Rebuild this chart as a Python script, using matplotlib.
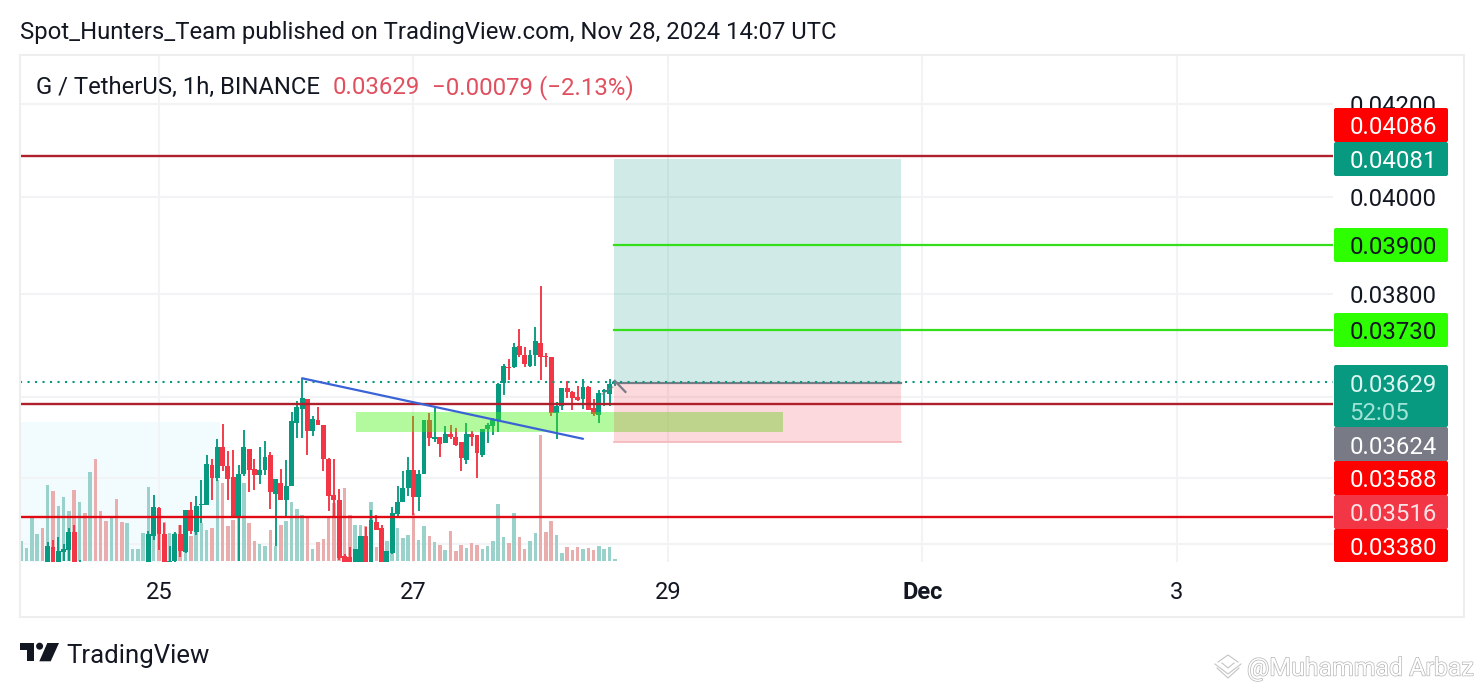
import matplotlib
matplotlib.use("Agg")
import matplotlib.pyplot as plt
import matplotlib.patheffects as pe
from matplotlib.patches import Rectangle, FancyBboxPatch, Polygon, Circle
from matplotlib.ticker import NullLocator, NullFormatter
import numpy as np

plt.rcParams['font.family'] = ['Roboto', 'DejaVu Sans']

# Prices are in units of 1e-5 USDT; bars are hourly, index 0 is the first bar
opens = [3240,3250,3260,3270,3280,3290,3328,3295,3318,3322,3353,3285,3280,3270,3275,3265,3260,3255,3260,3250,3245,3250,3255,3270,
         3298,3346,3396,3350,3290,3303,3350,3319,3393,3353,3401,3401,3474,3450,3506,3472,3452,3378,3457,3504,3466,3456,3465,3492,
         3422,3441,3410,3435,3551,3578,3596,3537,3557,3548,3485,3420,3411,3311,3310,3295,3295,3346,3296,3372,3360,3295,3316,3385,
         3406,3432,3465,3416,3458,3557,3522,3525,3515,3531,3525,3517,3483,3531,3529,3492,3540,3545,3557,3626,3657,3657,3699,3681,
         3660,3680,3705,3679,3677,3571,3584,3617,3610,3601,3597,3620,3579,3567,3610,3606,3625]
highs = [3270,3275,3285,3290,3295,3336,3340,3344,3332,3360,3366,3305,3295,3290,3292,3285,3280,3275,3275,3270,3270,3275,3285,3295,
         3355,3420,3398,3369,3329,3353,3366,3393,3407,3417,3447,3492,3485,3521,3550,3500,3501,3474,3539,3504,3485,3506,3518,3498,
         3448,3466,3483,3572,3592,3636,3596,3565,3581,3548,3486,3485,3431,3315,3328,3323,3347,3363,3393,3384,3366,3321,3398,3435,
         3462,3488,3564,3465,3557,3570,3583,3526,3545,3547,3542,3517,3552,3537,3529,3540,3552,3561,3626,3663,3673,3704,3731,3696,
         3690,3736,3817,3684,3677,3591,3618,3630,3611,3622,3634,3622,3596,3614,3615,3635,3631]
lows = [3225,3235,3245,3255,3265,3280,3285,3285,3302,3303,3285,3280,3265,3255,3255,3250,3245,3240,3245,3235,3235,3240,3245,3260,
        3290,3340,3322,3285,3285,3295,3310,3317,3350,3348,3369,3401,3411,3444,3463,3411,3378,3302,3453,3425,3429,3439,3455,3394,
        3329,3411,3378,3435,3524,3524,3492,3527,3547,3463,3391,3381,3305,3290,3290,3290,3290,3290,3290,3357,3290,3290,3315,3378,
        3406,3417,3384,3391,3457,3509,3517,3489,3515,3521,3509,3462,3475,3509,3450,3489,3515,3529,3535,3605,3633,3655,3676,3657,
        3657,3660,3633,3657,3564,3521,3575,3598,3575,3592,3578,3575,3564,3552,3583,3583,3622]
closes = [3250,3260,3270,3280,3270,3329,3295,3321,3324,3353,3298,3300,3270,3275,3265,3260,3255,3260,3250,3245,3250,3255,3270,3285,
          3350,3398,3350,3298,3303,3350,3321,3393,3356,3400,3402,3476,3451,3507,3472,3449,3378,3457,3506,3465,3456,3465,3489,3424,
          3448,3411,3435,3556,3581,3598,3537,3559,3547,3485,3418,3410,3308,3295,3295,3323,3347,3296,3375,3357,3298,3321,3388,3406,
          3432,3465,3416,3458,3557,3524,3525,3513,3531,3525,3511,3486,3531,3526,3495,3540,3547,3557,3625,3660,3655,3697,3681,3664,
          3680,3708,3676,3676,3570,3584,3618,3609,3598,3594,3620,3576,3568,3608,3613,3625,3629]
volumes = [60,40,128,81,100,228,210,165,193,150,213,178,143,268,306,150,120,128,185,118,113,36,36,84,223,120,158,116,83,83,108,63,76,
           133,113,93,98,243,235,106,123,253,233,113,60,50,46,93,46,108,121,178,156,138,133,36,58,66,133,173,168,218,138,108,108,105,
           178,43,60,60,73,98,68,78,143,63,105,75,58,48,33,90,30,48,40,53,48,35,45,60,171,72,53,143,72,37,60,83,378,88,120,78,23,43,33,
           43,35,38,33,45,36,43,5]

tick_bars = [26, 74, 122, 170, 218]
tick_labels = ['25', '27', '29', 'Dec', '3']
price_ticks = [4200, 4000, 3800]
grid_prices = [4200, 4000, 3800, 3600, 3450, 3333]

resistance_dark = [4086, 3588]
support_red = [3380]
targets_green = [3900, 3730]
last_price = 3629
tool_top, tool_entry, tool_stop = 4081, 3626, 3516
tool_bars = (111.8, 166.0)
zone_prices = (3535, 3572)
zone_bars = (63.1, 143.7)
trend_bars = [53, 106]
trend_prices = [3636, 3522]
box_bars = (-1, 37.5)
box_top = 3554

W, H = 1484, 688
fig = plt.figure(figsize=(W / 100, H / 100), dpi=100, facecolor='white')
rect = [20 / W, 1 - 562 / H, 1313 / W, 507 / H]
XL = (-0.226, 247.5)
YL = (3301, 4310)

UP, DOWN = '#089981', '#f23645'
n = len(closes)
idx = np.arange(n)
O, Hi, Lo, C = [np.array(a, float) for a in (opens, highs, lows, closes)]

bg = fig.add_axes(rect, zorder=0)
vol = fig.add_axes(rect, zorder=1, sharex=bg)
ax = fig.add_axes(rect, zorder=2, sharex=bg)
for a in (bg, ax):
    a.set_yscale('log')
    a.set_ylim(*YL)
    a.yaxis.set_minor_locator(NullLocator())
    a.yaxis.set_minor_formatter(NullFormatter())
for a in (bg, vol, ax):
    for s in a.spines.values():
        s.set_visible(False)
vol.patch.set_visible(False)
ax.patch.set_visible(False)
vol.set_ylim(0, 1521)
vol.set_yticks([])
bg.set_yticks([])
bg.tick_params(axis='x', length=0, labelbottom=False)
vol.tick_params(axis='x', length=0, labelbottom=False)

# background grid and box
for p in grid_prices:
    bg.axhline(p, color='#f2f3f4', lw=1.5)
for t in tick_bars:
    bg.axvline(t, color='#f2f3f4', lw=1.5)
bg.add_patch(Rectangle((box_bars[0], 3200), box_bars[1] - box_bars[0], box_top - 3200, fc='#f2fcfe', ec='none'))

# volumes
vcols = ['#9ad2cb' if c >= o else '#e9adad' for o, c in zip(opens, closes)]
vol.bar(idx, volumes, width=0.66, color=vcols, bottom=3)

# candles
cols = [UP if c >= o else DOWN for o, c in zip(opens, closes)]
ax.vlines(idx, Lo, Hi, colors=cols, lw=1.35, zorder=3)
ax.bar(idx, np.maximum(np.abs(C - O), 1.5), bottom=np.minimum(O, C), width=0.92, color=cols, zorder=3)

# zone
ax.add_patch(Rectangle((zone_bars[0], zone_prices[0]), zone_bars[1] - zone_bars[0], zone_prices[1] - zone_prices[0],
                       fc='#43f20c', ec='none', alpha=0.4, zorder=4))
# long position tool
w = tool_bars[1] - tool_bars[0]
ax.add_patch(Rectangle((tool_bars[0], tool_entry), w, tool_top - tool_entry, fc=UP, ec='none', alpha=0.19, zorder=5))
ax.add_patch(Rectangle((tool_bars[0], tool_stop), w, tool_entry - tool_stop, fc=DOWN, ec='none', alpha=0.19, zorder=5))
ax.plot(tool_bars, [tool_stop, tool_stop], color='#f5b5ba', lw=1.2, zorder=5)
ax.plot(tool_bars, [tool_entry, tool_entry], color='#787b86', lw=1.6, zorder=6)
ax.plot([112.0, 114.0], [3631, 3610], color='#787b86', lw=1.6, zorder=6)
ax.plot([109.6, 111.6], [3606, 3619], color='#787b86', lw=1.2, zorder=6, alpha=0.6)

# horizontal levels
for p in resistance_dark:
    ax.axhline(p, color='#b0202c', lw=1.7, zorder=7)
for p in support_red:
    ax.axhline(p, color='#e00a14', lw=1.7, zorder=7)
for p in targets_green:
    ax.plot([tool_bars[0], XL[1]], [p, p], color='#35de1a', lw=1.6, zorder=7)
ax.axhline(last_price, color=UP, lw=1.5, ls=(0, (1, 2.6)), zorder=7)
ax.plot(trend_bars, trend_prices, color='#3a63d6', lw=1.6, zorder=8, solid_capstyle='round')

# axes ticks
ax.set_xlim(*XL)
ax.set_xticks(tick_bars)
ax.set_xticklabels(tick_labels, fontsize=17, color='#131722')
ax.get_xticklabels()[3].set_fontweight('bold')
ax.tick_params(axis='x', length=0, pad=13.5)
ax.yaxis.tick_right()
ax.set_yticks(price_ticks)
ax.set_yticklabels([f'{p / 1e5:.5f}' for p in price_ticks], fontsize=17.2, color='#131722')
ax.tick_params(axis='y', length=0, pad=11.7)

# overlay in pixel coordinates for page furniture
ov = fig.add_axes([0, 0, 1, 1], zorder=5)
ov.set_xlim(0, W)
ov.set_ylim(H, 0)
ov.axis('off')
ov.add_patch(Rectangle((20, 55), 1444, 562, fc='none', ec='#eeeeee', lw=1.5))

def box(y0, y1, color):
    ov.add_patch(FancyBboxPatch((1334, y0), 114, y1 - y0, boxstyle='round,pad=0,rounding_size=2', fc=color, ec='none', mutation_aspect=1))

labels = [(108, 142, '#ff0000', '0.04086', 'white', 125),
          (142, 176, '#089981', '0.04081', 'white', 159),
          (228, 262, '#2dff00', '0.03900', '#131722', 245),
          (313, 347, '#2dff00', '0.03730', '#131722', 330),
          (365, 427, '#089981', '0.03629', '#ddf5f0', 382.5),
          (427, 461, '#787b86', '0.03624', 'white', 444.5),
          (461, 495, '#ff0000', '0.03588', 'white', 478),
          (495, 529, '#f23645', '0.03516', '#fbe3e5', 512),
          (529, 562, '#ff0000', '0.03380', 'white', 546)]
for y0, y1, col, txt, tc, yc in labels:
    box(y0, y1, col)
    ov.text(1350, yc, txt, color=tc, fontsize=17.3, va='center_baseline', ha='left')
ov.text(1349, 411, '52:05', color='#9fe3d5', fontsize=17.3, va='center_baseline', ha='left')

ov.text(20, 30.5, 'Spot_Hunters_Team published on TradingView.com, Nov 28, 2024 14:07 UTC',
        fontsize=17.17, color='#131722', va='center_baseline', ha='left')
ov.text(36, 84.5, 'G / TetherUS, 1h, BINANCE', fontsize=17.2, color='#131722', va='center_baseline', ha='left')
ov.text(333, 84.5, '0.03629', fontsize=17.3, color='#e0505f', va='center_baseline', ha='left')
ov.text(432, 84.5, '\u22120.00079 (\u22122.13%)', fontsize=17.3, color='#e0505f', va='center_baseline', ha='left')

# TradingView logo
LOGO = '#131722'
ov.add_patch(Polygon([(20, 643), (34.3, 643), (34.3, 661.3), (27.3, 661.3), (27.3, 649.5), (20, 649.5)], fc=LOGO, ec='none'))
ov.add_patch(Circle((39.6, 646.2), 3.5, fc=LOGO, ec='none'))
ov.add_patch(Polygon([(47.3, 643), (59, 643), (50.7, 661.3), (39.3, 661.3)], fc=LOGO, ec='none'))
ov.text(66, 654, 'TradingView', fontsize=18.5, color='#131722', va='center_baseline', ha='left')

# watermark
ov.text(1247, 666, '@Muhammad Arbaz', fontsize=17.9, color='white', va='center_baseline', ha='left',
        path_effects=[pe.withStroke(linewidth=1.0, foreground='#b5b5b5')])
ov.plot([1215, 1228, 1241], [664, 674, 664], color='#c4c4c4', lw=0.8)
ov.plot([1218, 1228, 1238], [662, 655, 662], color='#c4c4c4', lw=0.8)
ov.plot([1222, 1228, 1234], [663, 668, 663], color='#c4c4c4', lw=0.8)
ov.plot([1217, 1228, 1239], [668, 678, 668], color='#c4c4c4', lw=0.8)

fig.savefig('out.png', dpi=100, facecolor='white')
